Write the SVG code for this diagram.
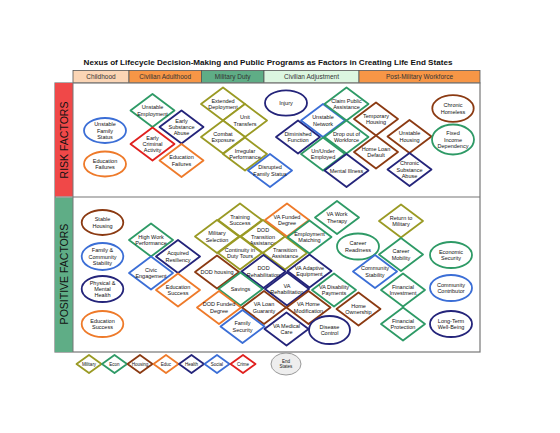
<svg xmlns="http://www.w3.org/2000/svg" xmlns:xlink="http://www.w3.org/1999/xlink" width="560" height="433" viewBox="0 0 560 433">
<style>
text{font-family:"Liberation Sans",Arial,sans-serif;fill:#111}
.lbl{font-size:5.5px;text-anchor:middle}
.lg{font-size:4.5px}
.hd{font-size:6.5px;text-anchor:middle;fill:#333}
.sh{fill:#fff;stroke-width:1.8;stroke-linejoin:round}
.mil{stroke:#9a9a24}.econ{stroke:#2e9a66}.hous{stroke:#8b3a12}.educ{stroke:#ee7a2a}
.hlth{stroke:#24247a}.soc{stroke:#3b6ed6}.crime{stroke:#e0201e}
.hcell{stroke:#555;stroke-width:0.8}
</style>
<defs>
<path id="dm" d="M0,-16.5 L22,0 L0,16.5 L-22,0 Z"/>
<path id="ldm" d="M0,-9 L12.5,0 L0,9 L-12.5,0 Z"/>
</defs>
<rect width="560" height="433" fill="#fff"/>
<text x="268" y="65" text-anchor="middle" font-size="8.1px" font-weight="bold">Nexus of Lifecycle Decision-Making and Public Programs as Factors in Creating Life End States</text>
<g id="header">
<rect class="hcell" x="73" y="70.5" width="56" height="12.5" fill="#fbd5b5"/>
<rect class="hcell" x="129" y="70.5" width="72.5" height="12.5" fill="#f79646"/>
<rect class="hcell" x="201.5" y="70.5" width="62.5" height="12.5" fill="#5fad86"/>
<rect class="hcell" x="264" y="70.5" width="95" height="12.5" fill="#dcf6e0"/>
<rect class="hcell" x="359" y="70.5" width="121" height="12.5" fill="#f79646"/>
<text class="hd" x="101" y="79.2">Childhood</text>
<text class="hd" x="165.2" y="79.2">Civilian Adulthood</text>
<text class="hd" x="232.7" y="79.2">Military Duty</text>
<text class="hd" x="311.5" y="79.2">Civilian Adjustment</text>
<text class="hd" x="419.5" y="79.2">Post-Military Workforce</text>
</g>
<g id="frame">
<rect x="55" y="83" width="425" height="269" fill="#fff" stroke="#777" stroke-width="1.2"/>
<rect x="55" y="83" width="18" height="113.5" fill="#f04848"/>
<rect x="55" y="197.5" width="18" height="154.5" fill="#5fad86"/>
<line x1="55" y1="197" x2="480" y2="197" stroke="#777" stroke-width="1.2"/>
<line x1="73" y1="83" x2="73" y2="352" stroke="#777" stroke-width="1"/>
<text transform="translate(68,140) rotate(-90)" text-anchor="middle" font-size="10.5px" fill="#2a1a1a">RISK FACTORS</text>
<text transform="translate(68,274) rotate(-90)" text-anchor="middle" font-size="10.5px" fill="#1a2a1a">POSITIVE FACTORS</text>
</g>
<g id="connectors"/>
<!-- Risk factors -->
<g id="r-unstable-family"><ellipse class="sh soc" cx="105" cy="130.5" rx="21" ry="12.5"/><text class="lbl" x="105" y="126.2">Unstable<tspan x="105" dy="6.3">Family</tspan><tspan x="105" dy="6.3">Status</tspan></text></g>
<g id="r-edu-fail-end"><ellipse class="sh educ" cx="105" cy="164" rx="21" ry="12.5"/><text class="lbl" x="105" y="162.9">Education<tspan x="105" dy="6.3">Failures</tspan></text></g>
<g id="r-unstable-emp"><use xlink:href="#dm" class="sh econ" x="152.5" y="110.5"/><text class="lbl" x="152.5" y="109.4">Unstable<tspan x="152.5" dy="6.3">Employment</tspan></text></g>
<g id="r-early-subst"><use xlink:href="#dm" class="sh hlth" x="181.5" y="127"/><text class="lbl" x="181.5" y="122.7">Early<tspan x="181.5" dy="6.3">Substance</tspan><tspan x="181.5" dy="6.3">Abuse</tspan></text></g>
<g id="r-early-crim"><use xlink:href="#dm" class="sh crime" x="152.5" y="144"/><text class="lbl" x="152.5" y="139.7">Early<tspan x="152.5" dy="6.3">Criminal</tspan><tspan x="152.5" dy="6.3">Activity</tspan></text></g>
<g id="r-edu-fail"><use xlink:href="#dm" class="sh educ" x="181.5" y="160.5"/><text class="lbl" x="181.5" y="159.4">Education<tspan x="181.5" dy="6.3">Failures</tspan></text></g>
<g id="r-ext-deploy"><use xlink:href="#dm" class="sh mil" x="223" y="104"/><text class="lbl" x="223" y="102.9">Extended<tspan x="223" dy="6.3">Deployment</tspan></text></g>
<g id="r-unit-transfers"><use xlink:href="#dm" class="sh mil" x="245" y="120.5"/><text class="lbl" x="245" y="119.4">Unit<tspan x="245" dy="6.3">Transfers</tspan></text></g>
<g id="r-combat"><use xlink:href="#dm" class="sh mil" x="223" y="137"/><text class="lbl" x="223" y="135.9">Combat<tspan x="223" dy="6.3">Exposure</tspan></text></g>
<g id="r-irregular"><use xlink:href="#dm" class="sh mil" x="245" y="154"/><text class="lbl" x="245" y="152.9">Irregular<tspan x="245" dy="6.3">Performance</tspan></text></g>
<g id="r-disrupted"><use xlink:href="#dm" class="sh soc" x="270" y="170.5"/><text class="lbl" x="270" y="169.4">Disrupted<tspan x="270" dy="6.3">Family Status</tspan></text></g>
<g id="r-injury"><ellipse class="sh hlth" cx="286" cy="103" rx="21" ry="12.7"/><text class="lbl" x="286" y="105">Injury</text></g>
<g id="r-diminished"><use xlink:href="#dm" class="sh hlth" x="298" y="137"/><text class="lbl" x="298" y="135.9">Diminished<tspan x="298" dy="6.3">Function</tspan></text></g>
<g id="r-unstable-net"><use xlink:href="#dm" class="sh soc" x="323" y="120.5"/><text class="lbl" x="323" y="119.4">Unstable<tspan x="323" dy="6.3">Network</tspan></text></g>
<g id="r-claim"><use xlink:href="#dm" class="sh econ" x="346.5" y="104"/><text class="lbl" x="346.5" y="102.9">Claim Public<tspan x="346.5" dy="6.3">Assistance</tspan></text></g>
<g id="r-dropout"><use xlink:href="#dm" class="sh econ" x="346.5" y="137"/><text class="lbl" x="346.5" y="135.9">Drop out of<tspan x="346.5" dy="6.3">Workforce</tspan></text></g>
<g id="r-unemployed"><use xlink:href="#dm" class="sh econ" x="323" y="154"/><text class="lbl" x="323" y="152.9">Un/Under<tspan x="323" dy="6.3">Employed</tspan></text></g>
<g id="r-mental"><use xlink:href="#dm" class="sh hlth" x="346.5" y="170.5"/><text class="lbl" x="346.5" y="172.5">Mental Illness</text></g>
<g id="r-temp-housing"><use xlink:href="#dm" class="sh hous" x="376" y="119"/><text class="lbl" x="376" y="117.9">Temporary<tspan x="376" dy="6.3">Housing</tspan></text></g>
<g id="r-unstable-housing"><use xlink:href="#dm" class="sh hous" x="409.5" y="136.5"/><text class="lbl" x="409.5" y="135.4">Unstable<tspan x="409.5" dy="6.3">Housing</tspan></text></g>
<g id="r-loan-default"><use xlink:href="#dm" class="sh hous" x="376" y="152"/><text class="lbl" x="376" y="150.9">Home Loan<tspan x="376" dy="6.3">Default</tspan></text></g>
<g id="r-chronic-subst"><use xlink:href="#dm" class="sh hlth" x="409.5" y="169.5"/><text class="lbl" x="409.5" y="165.2">Chronic<tspan x="409.5" dy="6.3">Substance</tspan><tspan x="409.5" dy="6.3">Abuse</tspan></text></g>
<g id="r-chronic-homeless"><ellipse class="sh hous" cx="453" cy="108.5" rx="20.7" ry="13.3"/><text class="lbl" x="453" y="107.4">Chronic<tspan x="453" dy="6.3">Homeless</tspan></text></g>
<g id="r-fixed-income"><ellipse class="sh econ" cx="453" cy="139.5" rx="21" ry="15"/><text class="lbl" x="453" y="135.2">Fixed<tspan x="453" dy="6.3">Income</tspan><tspan x="453" dy="6.3">Dependency</tspan></text></g>
<!-- Positive factors -->
<g id="p-stable-housing"><ellipse class="sh hous" cx="102.5" cy="222.5" rx="20.8" ry="12.5"/><text class="lbl" x="102.5" y="221.4">Stable<tspan x="102.5" dy="6.3">Housing</tspan></text></g>
<g id="p-family-community"><ellipse class="sh soc" cx="102.5" cy="256.5" rx="20.8" ry="13.5"/><text class="lbl" x="102.5" y="252.2">Family &amp;<tspan x="102.5" dy="6.3">Community</tspan><tspan x="102.5" dy="6.3">Stability</tspan></text></g>
<g id="p-phys-mental"><ellipse class="sh hlth" cx="102.5" cy="289" rx="20.8" ry="13"/><text class="lbl" x="102.5" y="284.7">Physical &amp;<tspan x="102.5" dy="6.3">Mental</tspan><tspan x="102.5" dy="6.3">Health</tspan></text></g>
<g id="p-edu-success-end"><ellipse class="sh educ" cx="102.5" cy="324" rx="20.8" ry="13"/><text class="lbl" x="102.5" y="322.9">Education<tspan x="102.5" dy="6.3">Success</tspan></text></g>
<g id="p-high-work"><use xlink:href="#dm" class="sh econ" x="151" y="240"/><text class="lbl" x="151" y="238.9">High Work<tspan x="151" dy="6.3">Performance</tspan></text></g>
<g id="p-resiliency"><use xlink:href="#dm" class="sh hlth" x="178" y="256.5"/><text class="lbl" x="178" y="255.4">Acquired<tspan x="178" dy="6.3">Resiliency</tspan></text></g>
<g id="p-civic"><use xlink:href="#dm" class="sh soc" x="151" y="273"/><text class="lbl" x="151" y="271.9">Civic<tspan x="151" dy="6.3">Engagement</tspan></text></g>
<g id="p-edu-success"><use xlink:href="#dm" class="sh educ" x="178" y="290"/><text class="lbl" x="178" y="288.9">Education<tspan x="178" dy="6.3">Success</tspan></text></g>
<g id="p-training"><use xlink:href="#dm" class="sh mil" x="240" y="220"/><text class="lbl" x="240" y="218.9">Training<tspan x="240" dy="6.3">Success</tspan></text></g>
<g id="p-mil-selection"><use xlink:href="#dm" class="sh mil" x="217" y="236.5"/><text class="lbl" x="217" y="235.4">Military<tspan x="217" dy="6.3">Selection</tspan></text></g>
<g id="p-dod-transition"><use xlink:href="#dm" class="sh mil" x="263" y="236.5"/><text class="lbl" x="263" y="232.2">DOD<tspan x="263" dy="6.3">Transition</tspan><tspan x="263" dy="6.3">Assistance</tspan></text></g>
<g id="p-continuity"><use xlink:href="#dm" class="sh mil" x="240" y="253"/><text class="lbl" x="240" y="251.9">Continuity in<tspan x="240" dy="6.3">Duty Tours</tspan></text></g>
<g id="p-transition"><use xlink:href="#dm" class="sh mil" x="285" y="253"/><text class="lbl" x="285" y="251.9">Transition<tspan x="285" dy="6.3">Assistance</tspan></text></g>
<g id="p-va-funded"><use xlink:href="#dm" class="sh educ" x="287" y="220"/><text class="lbl" x="287" y="218.9">VA Funded<tspan x="287" dy="6.3">Degree</tspan></text></g>
<g id="p-emp-matching"><use xlink:href="#dm" class="sh econ" x="309.5" y="237"/><text class="lbl" x="309.5" y="235.9">Employment<tspan x="309.5" dy="6.3">Matching</tspan></text></g>
<g id="p-va-work"><use xlink:href="#dm" class="sh econ" x="337" y="217.5"/><text class="lbl" x="337" y="216.4">VA Work<tspan x="337" dy="6.3">Therapy</tspan></text></g>
<g id="p-career-readiness"><ellipse class="sh econ" cx="358" cy="246.5" rx="21" ry="13"/><text class="lbl" x="358" y="245.4">Career<tspan x="358" dy="6.3">Readiness</tspan></text></g>
<g id="p-dod-housing"><use xlink:href="#dm" class="sh hous" x="217" y="272"/><text class="lbl" x="217" y="274">DOD housing</text></g>
<g id="p-dod-rehab"><use xlink:href="#dm" class="sh hlth" x="263.5" y="271.5"/><text class="lbl" x="263.5" y="270.4">DOD<tspan x="263.5" dy="6.3">Rehabilitation</tspan></text></g>
<g id="p-va-adaptive"><use xlink:href="#dm" class="sh hlth" x="309.5" y="271"/><text class="lbl" x="309.5" y="269.9">VA Adaptive<tspan x="309.5" dy="6.3">Equipment</tspan></text></g>
<g id="p-savings"><use xlink:href="#dm" class="sh econ" x="240.5" y="289"/><text class="lbl" x="240.5" y="291">Savings</text></g>
<g id="p-va-rehab"><use xlink:href="#dm" class="sh hlth" x="287" y="289"/><text class="lbl" x="287" y="287.9">VA<tspan x="287" dy="6.3">Rehabilitation</tspan></text></g>
<g id="p-va-disability"><use xlink:href="#dm" class="sh econ" x="334" y="290"/><text class="lbl" x="334" y="288.9">VA Disability<tspan x="334" dy="6.3">Payments</tspan></text></g>
<g id="p-community-stab"><use xlink:href="#dm" class="sh soc" x="375" y="271.5"/><text class="lbl" x="375" y="270.4">Community<tspan x="375" dy="6.3">Stability</tspan></text></g>
<g id="p-dod-funded"><use xlink:href="#dm" class="sh educ" x="219" y="307.5"/><text class="lbl" x="219" y="306.4">DOD Funded<tspan x="219" dy="6.3">Degree</tspan></text></g>
<g id="p-va-loan"><use xlink:href="#dm" class="sh hous" x="264" y="307.5"/><text class="lbl" x="264" y="306.4">VA Loan<tspan x="264" dy="6.3">Guaranty</tspan></text></g>
<g id="p-va-home-mod"><use xlink:href="#dm" class="sh hous" x="308.5" y="307.5"/><text class="lbl" x="308.5" y="306.4">VA Home<tspan x="308.5" dy="6.3">Modification</tspan></text></g>
<g id="p-home-ownership"><use xlink:href="#dm" class="sh hous" x="358.5" y="309"/><text class="lbl" x="358.5" y="307.9">Home<tspan x="358.5" dy="6.3">Ownership</tspan></text></g>
<g id="p-family-security"><use xlink:href="#dm" class="sh soc" x="242.5" y="326.5"/><text class="lbl" x="242.5" y="325.4">Family<tspan x="242.5" dy="6.3">Security</tspan></text></g>
<g id="p-va-medical"><use xlink:href="#dm" class="sh hlth" x="286.5" y="329"/><text class="lbl" x="286.5" y="327.9">VA Medical<tspan x="286.5" dy="6.3">Care</tspan></text></g>
<g id="p-disease-control"><ellipse class="sh hlth" cx="329.5" cy="330" rx="20.5" ry="14"/><text class="lbl" x="329.5" y="328.9">Disease<tspan x="329.5" dy="6.3">Control</tspan></text></g>
<g id="p-return-mil"><use xlink:href="#dm" class="sh mil" x="401" y="221"/><text class="lbl" x="401" y="219.9">Return to<tspan x="401" dy="6.3">Military</tspan></text></g>
<g id="p-career-mobility"><use xlink:href="#dm" class="sh econ" x="401" y="254.5"/><text class="lbl" x="401" y="253.4">Career<tspan x="401" dy="6.3">Mobility</tspan></text></g>
<g id="p-fin-invest"><use xlink:href="#dm" class="sh econ" x="403" y="290"/><text class="lbl" x="403" y="288.9">Financial<tspan x="403" dy="6.3">Investment</tspan></text></g>
<g id="p-fin-protect"><use xlink:href="#dm" class="sh econ" x="403" y="324"/><text class="lbl" x="403" y="322.9">Financial<tspan x="403" dy="6.3">Protection</tspan></text></g>
<g id="p-econ-security"><ellipse class="sh econ" cx="451" cy="255" rx="21" ry="13"/><text class="lbl" x="451" y="253.9">Economic<tspan x="451" dy="6.3">Security</tspan></text></g>
<g id="p-community-contrib"><ellipse class="sh soc" cx="451" cy="288" rx="21" ry="13"/><text class="lbl" x="451" y="286.9">Community<tspan x="451" dy="6.3">Contributor</tspan></text></g>
<g id="p-long-term"><ellipse class="sh hlth" cx="451" cy="324" rx="21" ry="13"/><text class="lbl" x="451" y="322.9">Long-Term<tspan x="451" dy="6.3">Well-Being</tspan></text></g>
<!-- Legend -->
<g id="legend">
<g id="lg-military"><use xlink:href="#ldm" class="sh mil" x="89" y="364"/><text class="lbl lg" x="89" y="365.6">Military</text></g>
<g id="lg-econ"><use xlink:href="#ldm" class="sh econ" x="114.5" y="364"/><text class="lbl lg" x="114.5" y="365.6">Econ</text></g>
<g id="lg-housing"><use xlink:href="#ldm" class="sh hous" x="140" y="364"/><text class="lbl lg" x="140" y="365.6">Housing</text></g>
<g id="lg-educ"><use xlink:href="#ldm" class="sh educ" x="166" y="364"/><text class="lbl lg" x="166" y="365.6">Educ</text></g>
<g id="lg-health"><use xlink:href="#ldm" class="sh hlth" x="191.5" y="364"/><text class="lbl lg" x="191.5" y="365.6">Health</text></g>
<g id="lg-social"><use xlink:href="#ldm" class="sh soc" x="217" y="364"/><text class="lbl lg" x="217" y="365.6">Social</text></g>
<g id="lg-crime"><use xlink:href="#ldm" class="sh crime" x="243" y="364"/><text class="lbl lg" x="243" y="365.6">Crime</text></g>
<g id="lg-end"><ellipse cx="286" cy="364" rx="15" ry="11" fill="#eeeeee" stroke="#999" stroke-width="1"/><text class="lbl lg" x="286" y="362.6">End<tspan x="286" dy="5.2">States</tspan></text></g>
</g>
</svg>
